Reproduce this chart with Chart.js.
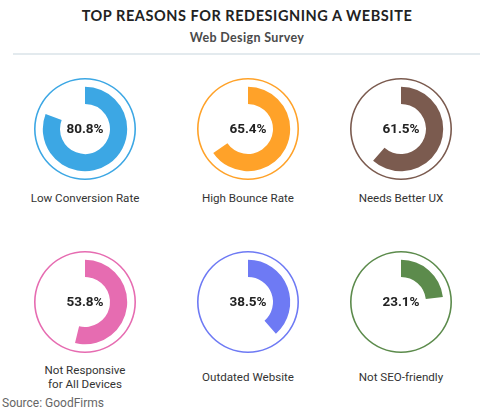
<!DOCTYPE html>
<html>
<head>
<meta charset="utf-8">
<script src="https://cdn.jsdelivr.net/npm/chart.js@4.4.1/dist/chart.umd.min.js"></script>
<style>
  html, body { margin: 0; padding: 0; background: #fff; }
  body { width: 494px; height: 416px; position: relative; overflow: hidden; font-family: Roboto, "Noto Sans", sans-serif; }
  #title { position: absolute; left: 0; width: 494px; top: 7px; text-align: center; font-family: Lato, sans-serif; font-weight: 700; font-size: 14.5px; color: #222; letter-spacing: 0.55px; }
  #subtitle { position: absolute; left: 0; width: 494px; top: 30px; text-align: center; font-family: Lato, sans-serif; font-weight: 700; font-size: 12.5px; color: #4a4a4a; letter-spacing: 0.35px; }
  #sep { position: absolute; left: 13px; width: 467px; top: 53px; height: 2px; background: #e3eaee; }
  .cell { position: absolute; width: 102px; height: 102px; }
  .lbl { position: absolute; width: 160px; text-align: center; font-size: 11.6px; color: #333; line-height: 14.5px; }
  #source { position: absolute; left: 2px; top: 396px; font-size: 12px; color: #666; }
</style>
</head>
<body>
<div id="title">TOP REASONS FOR REDESIGNING A WEBSITE</div>
<div id="subtitle">Web Design Survey</div>
<div id="sep"></div>
<div id="grid"></div>
<div id="source">Source: GoodFirms</div>
<script>
const categories = ["Low Conversion Rate", "High Bounce Rate", "Needs Better UX", "Not Responsive\nfor All Devices", "Outdated Website", "Not SEO-friendly"];
const percentValues = [80.8, 65.4, 61.5, 53.8, 38.5, 23.1];
const colors = ["#3ca7e4", "#ffa229", "#7b5b4f", "#e66cb1", "#6e7af4", "#5c8b4c"];

const centersX = [85, 248, 401];
const centersY = [129, 302];
const labelY = [198, 377];
const R = 51;

const centerText = {
  id: 'centerText',
  afterDraw(chart) {
    const meta = chart.getDatasetMeta(2);
    const arc = meta.data[0];
    const ctx = chart.ctx;
    ctx.save();
    ctx.font = 'bold 13.5px Roboto, sans-serif';
    ctx.fillStyle = '#222';
    ctx.textAlign = 'center';
    ctx.textBaseline = 'middle';
    ctx.fillText(chart.data.datasets[2].data[0].toFixed(1) + '%', arc.x, arc.y + 1);
    ctx.restore();
  }
};

const grid = document.getElementById('grid');
categories.forEach((cat, i) => {
  const col = i % 3, row = Math.floor(i / 3);
  const cell = document.createElement('div');
  cell.className = 'cell';
  cell.style.left = (centersX[col] - R) + 'px';
  cell.style.top = (centersY[row] - R) + 'px';
  const cv = document.createElement('canvas');
  cv.width = 2 * R; cv.height = 2 * R;
  cv.style.width = 2 * R + 'px'; cv.style.height = 2 * R + 'px';
  cell.appendChild(cv);
  grid.appendChild(cell);

  const lines = cat.split('\n');
  const lbl = document.createElement('div');
  lbl.className = 'lbl';
  lbl.style.left = (centersX[col] - 80) + 'px';
  lbl.style.top = (labelY[row] - lines.length * 14.5 / 2) + 'px';
  lbl.innerHTML = lines.join('<br>');
  grid.appendChild(lbl);

  const v = percentValues[i];
  new Chart(cv, {
    type: 'doughnut',
    data: {
      labels: [cat, ''],
      datasets: [
        { data: [100], backgroundColor: [colors[i]], borderWidth: 0, weight: 1.6 },
        { data: [100], backgroundColor: ['rgba(0,0,0,0)'], borderWidth: 0, weight: 7.2 },
        { data: [v, 100 - v], backgroundColor: [colors[i], 'rgba(0,0,0,0)'], borderWidth: 0, weight: 17.2 }
      ]
    },
    options: {
      responsive: false,
      animation: false,
      events: [],
      cutout: '49%',
      layout: { padding: 0 },
      plugins: { legend: { display: false }, tooltip: { enabled: false }, title: { display: false } }
    },
    plugins: [centerText]
  });
});
</script>
</body>
</html>
